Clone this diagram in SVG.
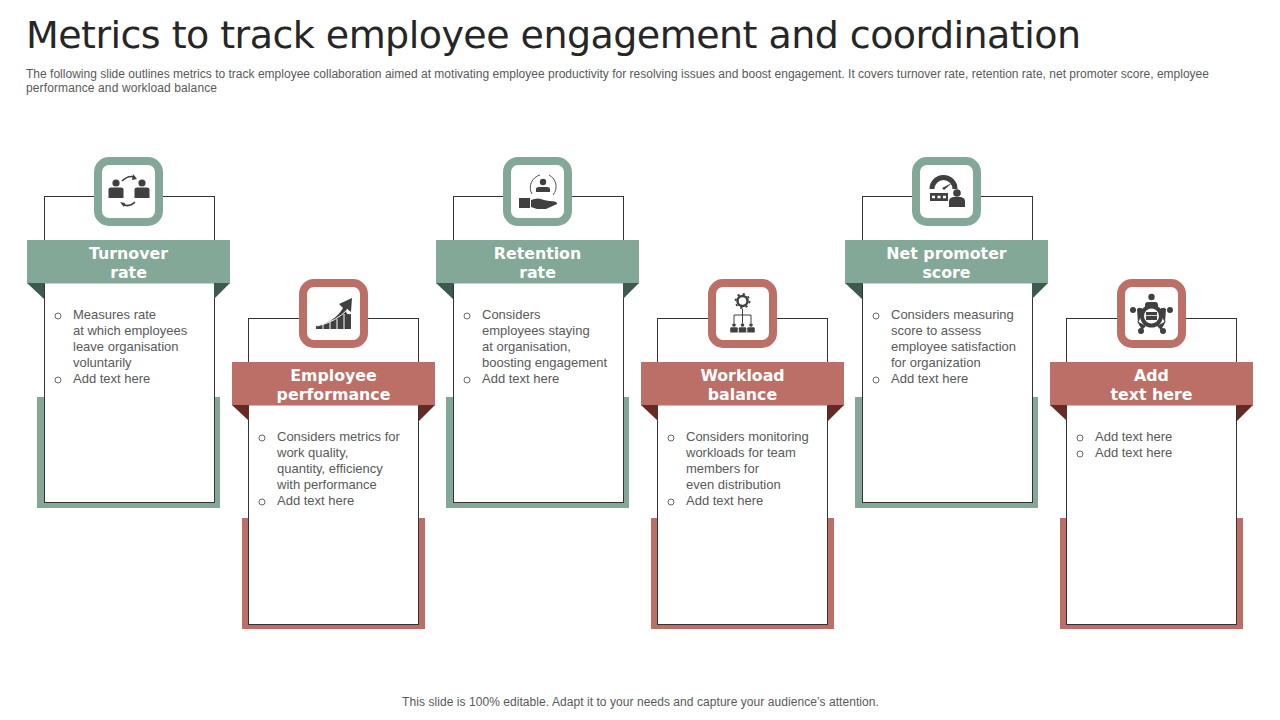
<svg xmlns="http://www.w3.org/2000/svg" xmlns:xlink="http://www.w3.org/1999/xlink" width="1280" height="720" viewBox="0 0 1280 720">
<style>
text{font-family:"Liberation Sans",Arial,sans-serif}
.title{font-family:"DejaVu Sans",sans-serif;font-size:38px;fill:#262626}
.sub{font-size:12px;fill:#595959}
.foot{font-size:12px;fill:#595959;text-anchor:middle;letter-spacing:.06px}
.box{fill:#fff;stroke:#333;stroke-width:1}
.head{font-family:"DejaVu Sans",sans-serif;font-weight:bold;font-size:15.8px;fill:#fff;text-anchor:middle}
.body{font-size:13px;fill:#595959}
.bul{fill:none;stroke:#595959;stroke-width:.9}
.g{--m:#84a897;--f:#3d5a4e}
.r{--m:#bc6f67;--f:#662a24}
.bk,.bn{fill:var(--m)}
.fd{fill:var(--f)}
.ic{fill:#fff;stroke:var(--m);stroke-width:8}
.d{fill:#404040}
.l{fill:none;stroke:#404040;stroke-width:1.6}
</style>
<defs>
<g id="top">
<rect class="bk" x="10" y="201" width="183" height="111"/>
<rect class="box" x="17.5" y="0.5" width="170" height="306"/>
</g>
<g id="low">
<rect class="bk" x="10" y="200" width="183" height="111"/>
<rect class="box" x="16.5" y="0.5" width="170" height="306"/>
</g>
<g id="front">
<rect class="bn" x="0" y="44" width="203" height="43.500"/>
<path class="fd" d="M0 87H17V103Z"/>
<path class="fd" d="M203 87H187V103Z"/>
<rect class="ic" x="71" y="-35" width="61" height="61" rx="11"/>
</g>
<g id="person"><circle cx="0" cy="-8" r="3.6"/><path d="M-7.500 7V-1.500Q-7.500 -3.500 -5 -3.500H5Q7.500 -3.500 7.500 -1.500V7Z"/></g>
</defs>
<text class="title" x="26" y="47.500" textLength="1055">Metrics to track employee engagement and coordination</text>
<text class="sub" x="26" y="78" textLength="1183">The following slide outlines metrics to track employee collaboration aimed at motivating employee productivity for resolving issues and boost engagement. It covers turnover rate, retention rate, net promoter score, employee</text>
<text class="sub" x="26" y="92" textLength="191">performance and workload balance</text>

<g id="node-turnover" class="g" transform="translate(27 196)">
<use href="#top"/><use href="#front"/>
<text class="head" x="101.500" y="63">Turnover</text><text class="head" x="101.500" y="82">rate</text>
<circle class="bul" cx="31" cy="120" r="3"/><circle class="bul" cx="31" cy="184" r="3"/>
<text class="body"><tspan x="46" y="123">Measures rate</tspan><tspan x="46" y="139">at which employees</tspan><tspan x="46" y="155">leave organisation</tspan><tspan x="46" y="171">voluntarily</tspan><tspan x="46" y="187">Add text here</tspan></text>
<g class="d"><use href="#person" x="89" y="-5"/><use href="#person" x="115" y="-5"/></g>
<path class="l" d="M95 -15Q101 -21 108 -19M108 6Q102 12 95 8"/><path class="d" d="M110 -17L105 -16L106 -22ZM93 6L98 7L97 11Z"/>
</g>

<g id="node-employee" class="r" transform="translate(232 318)">
<use href="#low"/><use href="#front"/>
<text class="head" x="101.500" y="63">Employee</text><text class="head" x="101.500" y="82">performance</text>
<circle class="bul" cx="30" cy="120" r="3"/><circle class="bul" cx="30" cy="184" r="3"/>
<text class="body"><tspan x="45" y="123">Considers metrics for</tspan><tspan x="45" y="139">work quality,</tspan><tspan x="45" y="155">quantity, efficiency</tspan><tspan x="45" y="171">with performance</tspan><tspan x="45" y="187">Add text here</tspan></text>
<path class="d" d="M84 11V8Q103 4 111 -10L107 -14L120 -20L119 -6L115 -9Q112 -3 119 -4V11Z"/>
<path d="M91 11V6M98 11V4M105 11V1M112 11V-4M85 8Q104 4 116 -9" stroke="#fff" stroke-width="1" fill="none"/>
</g>

<g id="node-retention" class="g" transform="translate(436 196)">
<use href="#top"/><use href="#front"/>
<text class="head" x="101.500" y="63">Retention</text><text class="head" x="101.500" y="82">rate</text>
<circle class="bul" cx="31" cy="120" r="3"/><circle class="bul" cx="31" cy="184" r="3"/>
<text class="body"><tspan x="46" y="123">Considers</tspan><tspan x="46" y="139">employees staying</tspan><tspan x="46" y="155">at organisation,</tspan><tspan x="46" y="171">boosting engagement</tspan><tspan x="46" y="187">Add text here</tspan></text>
<circle class="d" cx="107" cy="-14" r="3.200"/><path class="d" d="M100 -4V-7Q100 -9 103 -9H111Q114 -9 114 -7V-4Z"/>
<path d="M96 -2A13 13 0 0 1 104 -21M113 -21A13 13 0 0 1 117 -1" fill="none" stroke="#404040" stroke-width=".9"/>
<path class="d" d="M83 2H94V12H83ZM95 4Q102 1 108 4L113 5Q122 5 121 8L110 13H101L95 11Z"/>
</g>

<g id="node-workload" class="r" transform="translate(641 318)">
<use href="#low"/><use href="#front"/>
<text class="head" x="101.500" y="63">Workload</text><text class="head" x="101.500" y="82">balance</text>
<circle class="bul" cx="30" cy="120" r="3"/><circle class="bul" cx="30" cy="184" r="3"/>
<text class="body"><tspan x="45" y="123">Considers monitoring</tspan><tspan x="45" y="139">workloads for team</tspan><tspan x="45" y="155">members for</tspan><tspan x="45" y="171">even distribution</tspan><tspan x="45" y="187">Add text here</tspan></text>
<circle cx="101.500" cy="-17" r="5" fill="#fff" stroke="#404040" stroke-width="2.500"/>
<circle cx="101.500" cy="-17" r="7" fill="none" stroke="#404040" stroke-width="1.800" stroke-dasharray="2.200 3.300"/>
<path d="M101.500 -9V5M93 5V-3H110V5" fill="none" stroke="#404040" stroke-width="1"/>
<g class="d"><use href="#person" transform="translate(93 11) scale(.5)"/><use href="#person" transform="translate(101.500 11) scale(.5)"/><use href="#person" transform="translate(110 11) scale(.5)"/></g>
</g>

<g id="node-promoter" class="g" transform="translate(845 196)">
<use href="#top"/><use href="#front"/>
<text class="head" x="101.500" y="63">Net promoter</text><text class="head" x="101.500" y="82">score</text>
<circle class="bul" cx="31" cy="120" r="3"/><circle class="bul" cx="31" cy="184" r="3"/>
<text class="body"><tspan x="46" y="123">Considers measuring</tspan><tspan x="46" y="139">score to assess</tspan><tspan x="46" y="155">employee satisfaction</tspan><tspan x="46" y="171">for organization</tspan><tspan x="46" y="187">Add text here</tspan></text>
<path d="M87 -7A11.500 11.500 0 0 1 110 -7" fill="none" stroke="#404040" stroke-width="5"/>
<path class="d" d="M97 -8L107 -13L99 -6Z"/>
<rect class="d" x="85" y="-3" width="18" height="8"/>
<path d="M87 1H90M92.500 1H95.500M98 1H101" stroke="#fff" stroke-width="2.500"/>
<circle class="d" cx="112" cy="-3" r="3.800"/>
<path class="d" d="M104 11V5Q104 2 108 1H116Q120 2 120 5V11Z"/>
</g>

<g id="node-add" class="r" transform="translate(1050 318)">
<use href="#low"/><use href="#front"/>
<text class="head" x="101.500" y="63">Add</text><text class="head" x="101.500" y="82">text here</text>
<circle class="bul" cx="30" cy="120" r="3"/><circle class="bul" cx="30" cy="136" r="3"/>
<text class="body"><tspan x="45" y="123">Add text here</tspan><tspan x="45" y="139">Add text here</tspan></text>
<g class="d"><circle cx="101.500" cy="-21" r="3.200"/><circle cx="83" cy="-8" r="3"/><circle cx="120" cy="-8" r="3"/><circle cx="91" cy="13" r="3"/><circle cx="113" cy="13" r="3"/>
<path d="M95 -8V-13Q95 -16 98 -16H105Q108 -16 108 -13V-8ZM87 -9Q90 -12 94 -8L88 5ZM116 -9Q113 -12 109 -8L115 5ZM92 12L87 3L96 8ZM111 12L116 3L107 8Z"/>
<circle cx="101.500" cy="-2" r="11.500"/></g>
<circle cx="101.500" cy="-2" r="7.500" fill="#fff"/>
<rect class="d" x="96" y="-6" width="11" height="8"/><path d="M95.500 -2.500H107.500" stroke="#fff" stroke-width=".8"/>
</g>

<text class="foot" x="640.500" y="706">This slide is 100% editable. Adapt it to your needs and capture your audience’s attention.</text>
</svg>
